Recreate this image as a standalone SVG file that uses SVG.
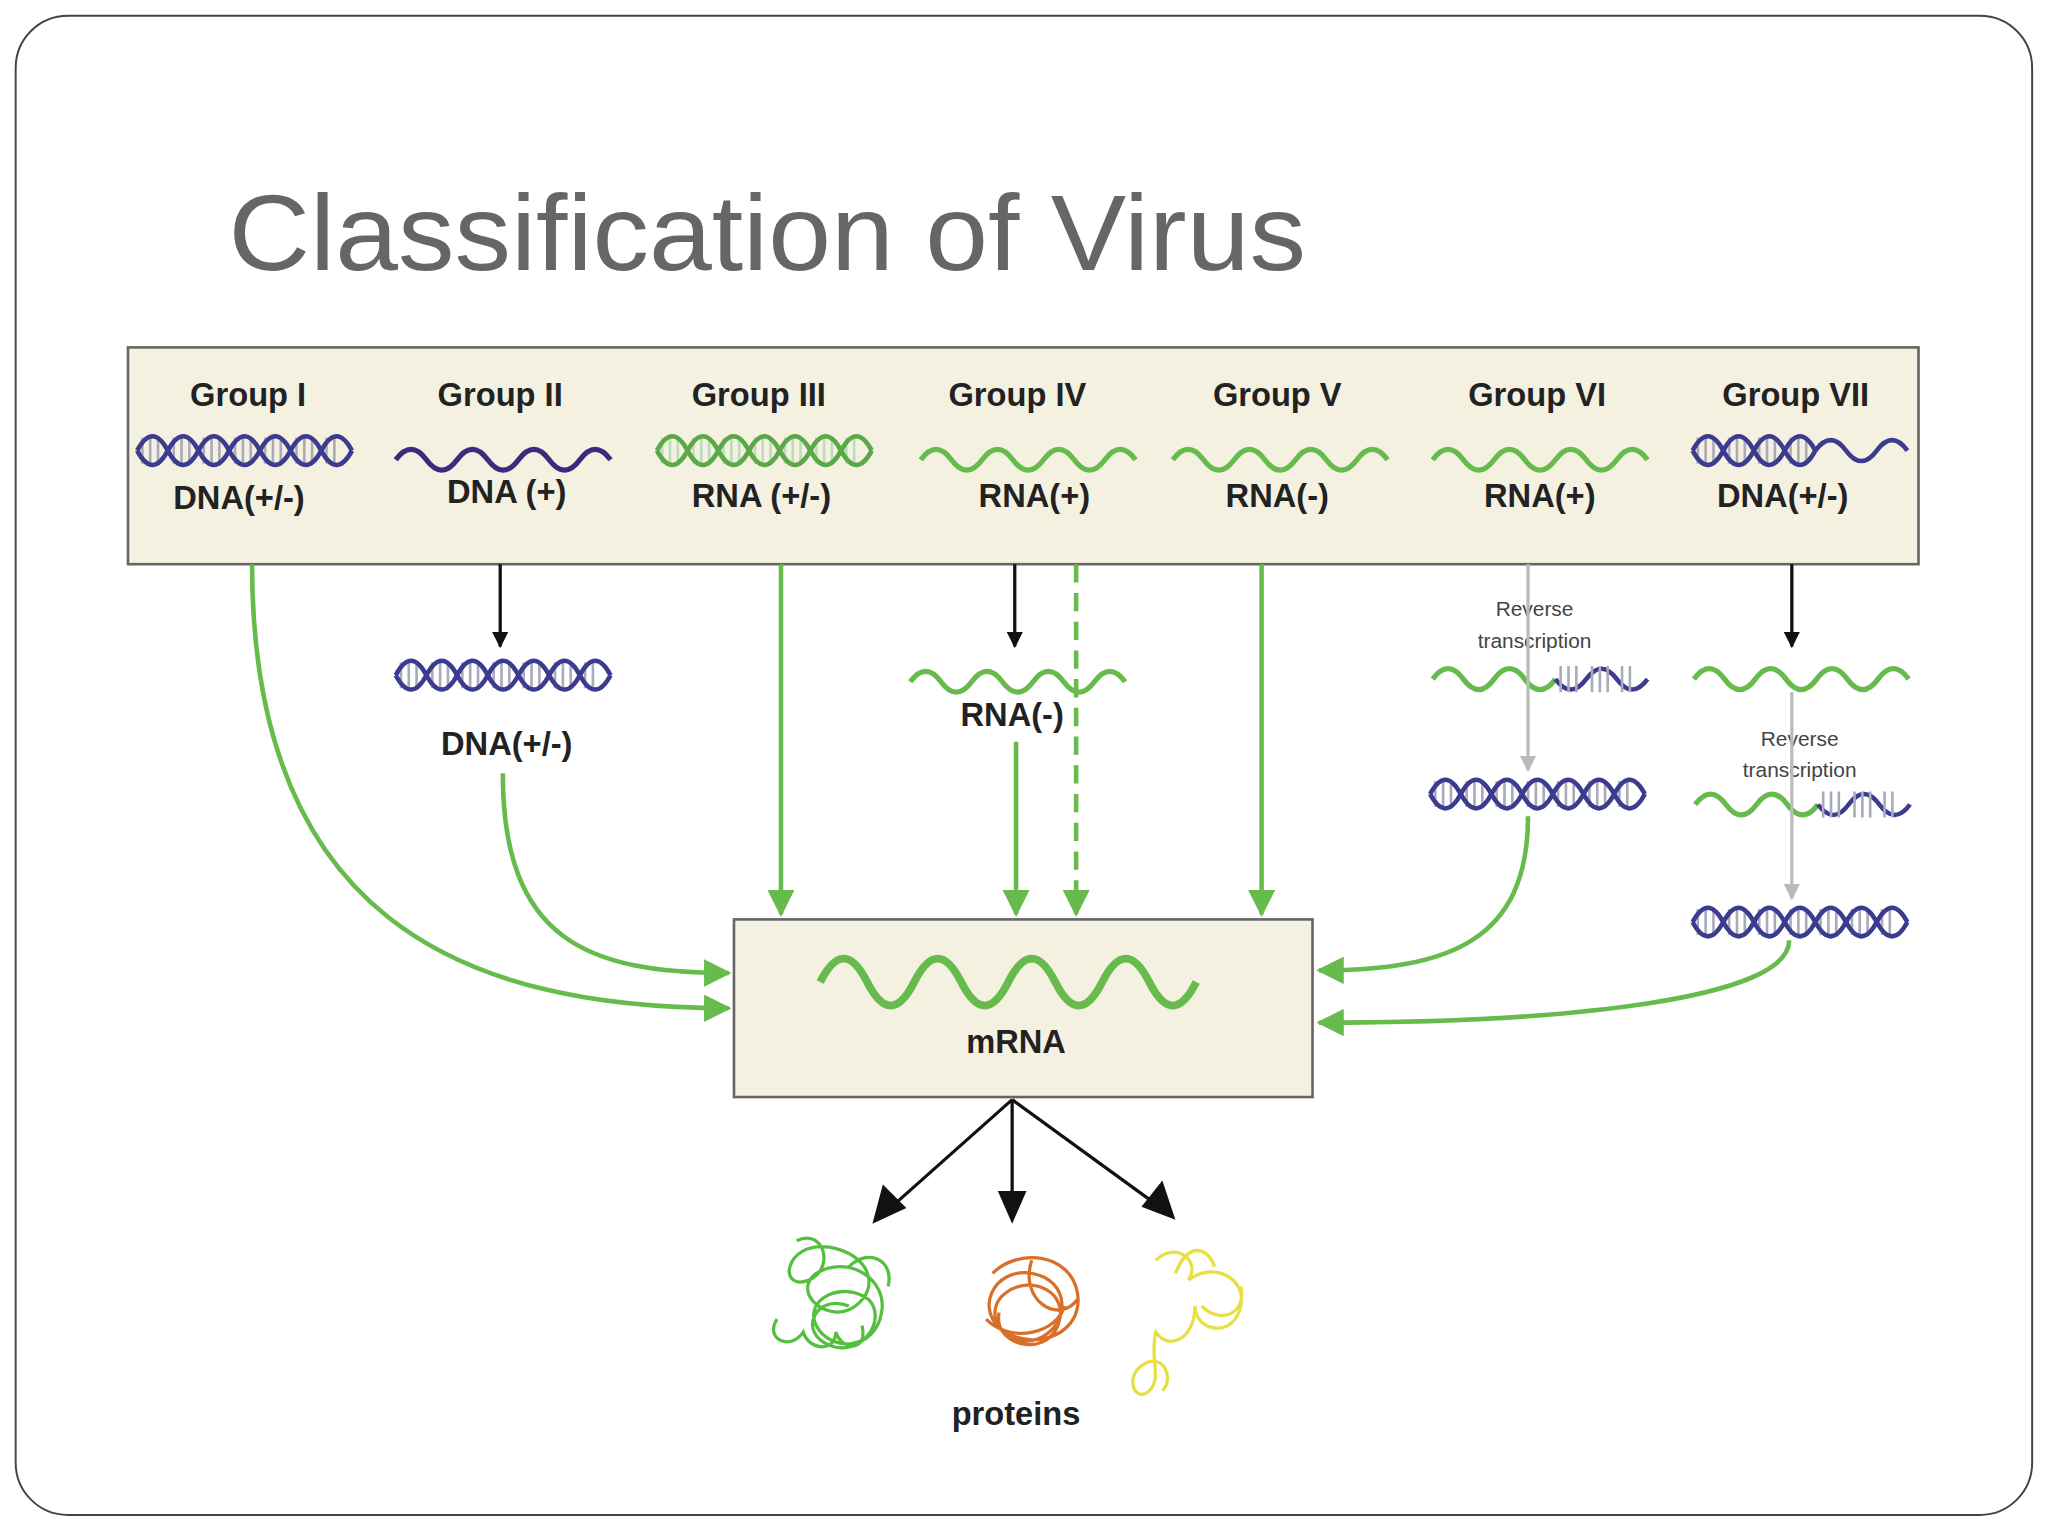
<svg xmlns="http://www.w3.org/2000/svg" width="2048" height="1536" viewBox="0 0 2048 1536">
<style>
.g{font-family:"Liberation Sans",Arial,sans-serif;font-weight:bold;font-size:25px;fill:#222;text-anchor:middle}
.s{font-family:"Liberation Sans",Arial,sans-serif;font-size:16px;fill:#444;text-anchor:middle}
.gr{stroke:#66bb4c;stroke-width:3.5;fill:none}
.bk{stroke:#111;stroke-width:2.5;fill:none}
.gy{stroke:#bbb;stroke-width:2.5;fill:none}
</style>
<defs>
<marker id="mg" viewBox="0 0 10 10" refX="9" refY="5" markerWidth="6" markerHeight="6" orient="auto" markerUnits="strokeWidth"><path d="M0,0L10,5L0,10z" fill="#66bb4c"/></marker>
<marker id="mb" viewBox="0 0 10 10" refX="9" refY="5" markerWidth="5" markerHeight="5" orient="auto" markerUnits="strokeWidth"><path d="M0,0L10,5L0,10z" fill="#111"/></marker>
<marker id="mB" viewBox="0 0 10 10" refX="9" refY="5" markerWidth="7" markerHeight="7" orient="auto" markerUnits="userSpaceOnUse"><path d="M0,0L10,5L0,10z" fill="#111"/></marker>
<marker id="my" viewBox="0 0 10 10" refX="9" refY="5" markerWidth="5" markerHeight="6" orient="auto" markerUnits="strokeWidth"><path d="M0,0L10,5L0,10z" fill="#bbb"/></marker>
<path id="w" d="M0,0q11.75,-22 23.5,0t23.5,0t23.5,0t23.5,0t23.5,0t23.5,0t23.5,0"/>
<path id="ws" d="M0,0q11.75,-16 23.5,0t23.5,0t23.5,0t23.5,0t23.5,0t23.5,0t23.5,0"/>
<g id="dna">
<path d="M4,-10v20M10,-10v20M16,-10v20M28,-10v20M34,-10v20M40,-10v20M51,-10v20M57,-10v20M63,-10v20M75,-10v20M81,-10v20M87,-10v20M98,-10v20M104,-10v20M110,-10v20M122,-10v20M128,-10v20M134,-10v20M145,-10v20M151,-10v20" stroke="#aab" stroke-width="2"/>
<use href="#w" stroke="#3b3b8f" stroke-width="3.5" fill="none"/>
<use href="#w" transform="scale(1,-1)" stroke="#3b3b8f" stroke-width="3.5" fill="none"/>
</g>
<g id="rnaD">
<path d="M4,-10v20M10,-10v20M16,-10v20M28,-10v20M34,-10v20M40,-10v20M51,-10v20M57,-10v20M63,-10v20M75,-10v20M81,-10v20M87,-10v20M98,-10v20M104,-10v20M110,-10v20M122,-10v20M128,-10v20M134,-10v20M145,-10v20M151,-10v20" stroke="#bdb" stroke-width="2"/>
<use href="#w" stroke="#5aa848" stroke-width="3.5" fill="none"/>
<use href="#w" transform="scale(1,-1)" stroke="#5aa848" stroke-width="3.5" fill="none"/>
</g>
<use id="rg" href="#ws" stroke="#66bb4c" stroke-width="4" fill="none"/>
<use id="rp" href="#ws" stroke="#3b2b7f" stroke-width="4" fill="none"/>
<g id="hyb">
<path d="M0,0q11.75,-16 23.5,0t23.5,0t23.5,0t23.5,0" stroke="#66bb4c" stroke-width="4" fill="none"/>
<path d="M94,0q11.75,16 23.5,0t23.5,0t23.5,0" stroke="#3b3b8f" stroke-width="3.5" fill="none"/>
<path d="M98,-10v20M104,-10v20M110,-10v20M122,-10v20M128,-10v20M134,-10v20M145,-10v20M151,-10v20" stroke="#aab" stroke-width="2"/>
</g>
<g id="hyb2">
<path d="M4,-10v20M10,-10v20M16,-10v20M28,-10v20M34,-10v20M40,-10v20M51,-10v20M57,-10v20M63,-10v20M75,-10v20M81,-10v20M87,-10v20" stroke="#aab" stroke-width="2"/>
<path d="M0,0q11.75,-22 23.5,0t23.5,0t23.5,0t23.5,0M0,0q11.75,22 23.5,0t23.5,0t23.5,0t23.5,0" stroke="#3b3b8f" stroke-width="3.5" fill="none"/>
<path d="M94,0q11.75,-16 23.5,0t23.5,0t23.5,0" stroke="#3b3b8f" stroke-width="3.5" fill="none"/>
</g>
</defs>
<rect width="2048" height="1536" fill="#fff"/>
<g transform="scale(1.306)">
<rect x="12" y="12" width="1544" height="1148" rx="40" fill="#fff" stroke="#444" stroke-width="1.5"/>
<text x="175" y="207" font-family="Liberation Sans,Arial,sans-serif" font-size="82" fill="#666" textLength="825" lengthAdjust="spacingAndGlyphs">Classification of Virus</text>
<g id="top">
<rect x="98" y="266" width="1371" height="166" fill="#f4f1e1" stroke="#666" stroke-width="2"/>
<text class="g" x="190" y="311">Group I</text><use href="#dna" x="105" y="345"/><text class="g" x="183" y="390">DNA(+/-)</text>
<text class="g" x="383" y="311">Group II</text><use href="#rp" x="303" y="352"/><text class="g" x="388" y="385">DNA (+)</text>
<text class="g" x="581" y="311">Group III</text><use href="#rnaD" x="503" y="345"/><text class="g" x="583" y="388">RNA (+/-)</text>
<text class="g" x="779" y="311">Group IV</text><use href="#rg" x="705" y="352"/><text class="g" x="792" y="388">RNA(+)</text>
<text class="g" x="978" y="311">Group V</text><use href="#rg" x="898" y="352"/><text class="g" x="978" y="388">RNA(-)</text>
<text class="g" x="1177" y="311">Group VI</text><use href="#rg" x="1097" y="352"/><text class="g" x="1179" y="388">RNA(+)</text>
<text class="g" x="1375" y="311">Group VII</text><use href="#hyb2" x="1296" y="345"/><text class="g" x="1365" y="388">DNA(+/-)</text>
</g>
<g id="mid">
<use href="#dna" x="303" y="517"/><text class="g" x="388" y="578">DNA(+/-)</text>
<use href="#rg" x="697" y="522"/><text class="g" x="775" y="556">RNA(-)</text>
<text class="s" x="1175" y="472">Reverse</text><text class="s" x="1175" y="496">transcription</text>
<use href="#hyb" x="1097" y="520"/><use href="#dna" x="1095" y="608"/>
<use href="#rg" x="1297" y="520"/>
<text class="s" x="1378" y="571">Reverse</text><text class="s" x="1378" y="595">transcription</text>
<use href="#hyb" x="1298" y="616"/><use href="#dna" x="1296" y="706"/>
</g>
<g id="mrna">
<rect x="562" y="704" width="443" height="136" fill="#f4f1e1" stroke="#666" stroke-width="2"/>
<path d="M628,752q18,-36 36,0t36,0t36,0t36,0t36,0t36,0t36,0t36,0" stroke="#66bb4c" stroke-width="6" fill="none"/>
<text class="g" x="778" y="806">mRNA</text>
</g>
<g id="connectors">
<path class="gr" marker-end="url(#mg)" d="M193,432C193,700 350,772 558,772"/>
<path class="bk" marker-end="url(#mb)" d="M383,432V495"/>
<path class="gr" marker-end="url(#mg)" d="M385,592C385,720 450,745 558,745"/>
<path class="gr" marker-end="url(#mg)" d="M598,432V700"/>
<path class="bk" marker-end="url(#mb)" d="M777,432V495"/>
<path class="gr" marker-end="url(#mg)" d="M778,568V700"/>
<path class="gr" stroke-dasharray="14,8" marker-end="url(#mg)" d="M824,432V700"/>
<path class="gr" marker-end="url(#mg)" d="M966,432V700"/>
<path class="gy" marker-end="url(#my)" d="M1170,432V590"/>
<path class="gr" marker-end="url(#mg)" d="M1170,625C1170,720 1110,743 1010,743"/>
<path class="bk" marker-end="url(#mb)" d="M1372,432V495"/>
<path class="gy" marker-end="url(#my)" d="M1372,530V688"/>
<path class="gr" marker-end="url(#mg)" d="M1370,720C1370,765 1200,783 1010,783"/>
<g transform="scale(1)">
<path class="bk" stroke-width="3.5" d="M775,842L685,922M775,842V915M775,842L885,922"/>
<path d="M668,937l8,-30l18,18z" fill="#111"/>
<path d="M764,912h22l-11,25z" fill="#111"/>
<path d="M900,934l-10,-30l-16,20z" fill="#111"/>
</g>
</g>
<g id="proteins" fill="none" stroke-width="2.5">
<path stroke="#55c040" d="M610,950c20,-10 30,20 10,30c-25,10 -20,-30 15,-25c30,5 40,30 20,45c-20,15 -50,-10 -30,-25c25,-15 55,5 50,30c-5,30 -40,30 -50,10c-10,-20 20,-35 40,-20c15,15 -5,45 -30,35c-25,-10 -10,-40 15,-30M595,1010c-10,15 10,25 20,10c5,15 25,15 25,0c5,15 25,15 20,-5M650,970c15,-15 35,-5 30,15"/>
<path stroke="#d8702a" d="M760,975c20,-20 60,-15 65,15c5,30 -30,45 -55,30c-25,-15 -10,-50 20,-45c30,5 30,40 5,50c-25,10 -45,-20 -25,-35c20,-15 50,0 40,25c-10,25 -50,15 -45,-10M790,965c-10,30 20,50 35,30M755,1010c20,20 55,10 60,-10"/>
<path stroke="#e6e040" d="M885,965c15,-15 35,0 25,15c20,-15 45,0 40,20c-5,25 -35,20 -35,0c0,25 -20,35 -30,20c-5,20 5,35 -5,45c-10,10 -20,-10 -5,-20c15,-10 25,10 15,20M900,975c10,-25 25,-20 30,-5M920,1000c15,15 35,5 30,-15"/>
<text class="g" x="778" y="1091">proteins</text>
</g>
</g>
</svg>
